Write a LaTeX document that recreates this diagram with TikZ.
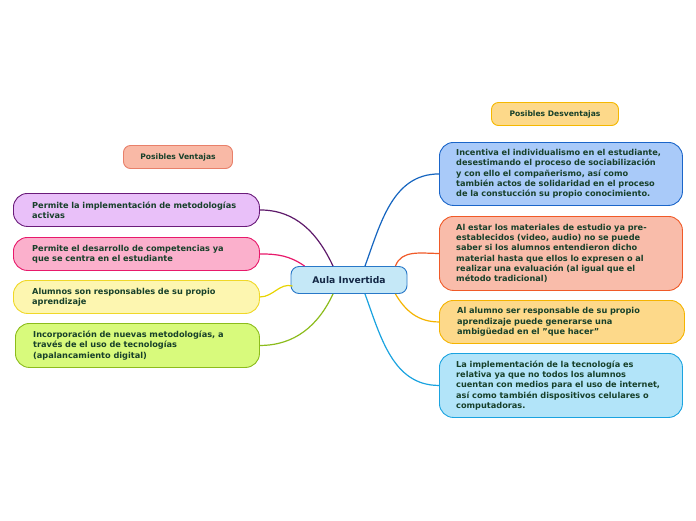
\documentclass[tikz,border=0pt]{standalone}
\usepackage{fontspec}
\setmainfont{DejaVu Sans}
\usetikzlibrary{calc}
\definecolor{txt}{HTML}{17402A}
\tikzset{
 box/.style={draw, line width=0.9pt, rounded corners=14pt, anchor=north west, inner sep=0pt},
 lbl/.style={anchor=west, align=left, text width=240pt, font=\fontsize{8.2}{10.3}\selectfont\bfseries, text=txt, inner sep=0pt},
 conn/.style={line width=1.2pt},
}
\begin{document}
\begin{tikzpicture}[x=1pt,y=1pt]
\useasboundingbox (0,0) rectangle (696,-520);
\fill[white] (0,0) rectangle (696,-520);
% center
\node[draw={rgb,255:red,40;green,120;blue,200}, fill={rgb,255:red,197;green,232;blue,247}, line width=0.9pt, rounded corners=8pt, minimum width=116pt, minimum height=27pt, font=\fontsize{9.2}{10}\selectfont\bfseries, text={rgb,255:red,20;green,40;blue,70}] (c) at (349,-280) {Aula Invertida};
\node[draw={rgb,255:red,232;green,128;blue,106}, fill={rgb,255:red,249;green,185;blue,166}, line width=0.9pt, rounded corners=7pt, minimum width=109pt, minimum height=23pt, font=\fontsize{7.6}{9}\selectfont\bfseries, text=txt] (pv) at (178,-157) {Posibles Ventajas};
\node[draw={rgb,255:red,245;green,184;blue,0}, fill={rgb,255:red,253;green,217;blue,138}, line width=0.9pt, rounded corners=7pt, minimum width=127pt, minimum height=23pt, font=\fontsize{7.6}{9}\selectfont\bfseries, text=txt] (pd) at (555,-114) {Posibles Desventajas};
% left boxes
\node[box, draw={rgb,255:red,106;green,27;blue,122}, fill={rgb,255:red,233;green,192;blue,249}, minimum width=246pt, minimum height=33pt] (l1) at (13,-193) {};
\node[lbl] (t1) at ($(l1.west)+(19,0)$) {Permite la implementación de metodologías\\activas};
\node[box, draw={rgb,255:red,232;green,25;blue,107}, fill={rgb,255:red,251;green,176;blue,204}, minimum width=246pt, minimum height=33pt] (l2) at (13,-237) {};
\node[lbl] (t2) at ($(l2.west)+(19,0)$) {Permite el desarrollo de competencias ya\\que se centra en el estudiante};
\node[box, draw={rgb,255:red,240;green,216;blue,40}, fill={rgb,255:red,253;green,246;blue,176}, minimum width=246pt, minimum height=33pt] (l3) at (13,-280) {};
\node[lbl] (t3) at ($(l3.west)+(19,0)$) {Alumnos son responsables de su propio\\aprendizaje};
\node[box, draw={rgb,255:red,140;green,188;blue,28}, fill={rgb,255:red,216;green,250;blue,124}, minimum width=244pt, minimum height=44pt] (l4) at (15,-323) {};
\node[lbl] (t4) at ($(l4.west)+(18,0)$) {Incorporación de nuevas metodologías, a\\través de el uso de tecnologías\\(apalancamiento digital)};
% right boxes
\node[box, draw={rgb,255:red,26;green,101;blue,201}, fill={rgb,255:red,169;green,202;blue,249}, minimum width=243pt, minimum height=63pt] (r1) at (439,-142) {};
\node[lbl] (t5) at ($(r1.west)+(17,0)$) {Incentiva el individualismo en el estudiante,\\desestimando el proceso de sociabilización\\y con ello el compañerismo, así como\\también actos de solidaridad en el proceso\\de la constucción su propio conocimiento.};
\node[box, draw={rgb,255:red,240;green,90;blue,40}, fill={rgb,255:red,249;green,188;blue,170}, minimum width=243pt, minimum height=74pt] (r2) at (439,-216) {};
\node[lbl] (t6) at ($(r2.west)+(17,0)$) {Al estar los materiales de estudio ya pre-\\establecidos (video, audio) no se puede\\saber si los alumnos entendieron dicho\\material hasta que ellos lo expresen o al\\realizar una evaluación (al igual que el\\método tradicional)};
\node[box, draw={rgb,255:red,245;green,180;blue,0}, fill={rgb,255:red,253;green,217;blue,138}, minimum width=245pt, minimum height=43pt] (r3) at (439,-300) {};
\node[lbl] (t7) at ($(r3.west)+(18,0)$) {Al alumno ser responsable de su propio\\aprendizaje puede generarse una\\ambigüedad en el \symbol{34}que hacer\symbol{34}};
\node[box, draw={rgb,255:red,26;green,163;blue,224}, fill={rgb,255:red,178;green,228;blue,249}, minimum width=243pt, minimum height=64pt] (r4) at (439,-353) {};
\node[lbl] (t8) at ($(r4.west)+(17,0)$) {La implementación de la tecnología es\\relativa ya que no todos los alumnos\\cuentan con medios para el uso de internet,\\así como también dispositivos celulares o\\computadoras.};
% connectors
\draw[conn, draw={rgb,255:red,94;green,26;blue,107}] ($(c.north)+(-16,0)$) to[out=115,in=0] (l1.east);
\draw[conn, draw={rgb,255:red,232;green,25;blue,107}] ($(c.north west)+(14,0)$) to[out=145,in=0] (l2.east);
\draw[conn, draw={rgb,255:red,232;green,212;blue,0}] ($(c.west)+(2,-6)$) to[out=165,in=0] (l3.east);
\draw[conn, draw={rgb,255:red,140;green,188;blue,28}] ($(c.south)+(-16,0)$) to[out=-115,in=0] (l4.east);
\draw[conn, draw={rgb,255:red,21;green,101;blue,192}] ($(c.north)+(16,0)$) to[out=70,in=180] (r1.west);
\draw[conn, draw={rgb,255:red,240;green,90;blue,40}] ($(c.north east)+(-12,0)$) to[out=70,in=180] (r2.west);
\draw[conn, draw={rgb,255:red,245;green,180;blue,0}] ($(c.south east)+(-12,0)$) to[out=-60,in=180] (r3.west);
\draw[conn, draw={rgb,255:red,26;green,163;blue,224}] ($(c.south)+(16,0)$) to[out=-70,in=180] (r4.west);
\end{tikzpicture}
\end{document}
